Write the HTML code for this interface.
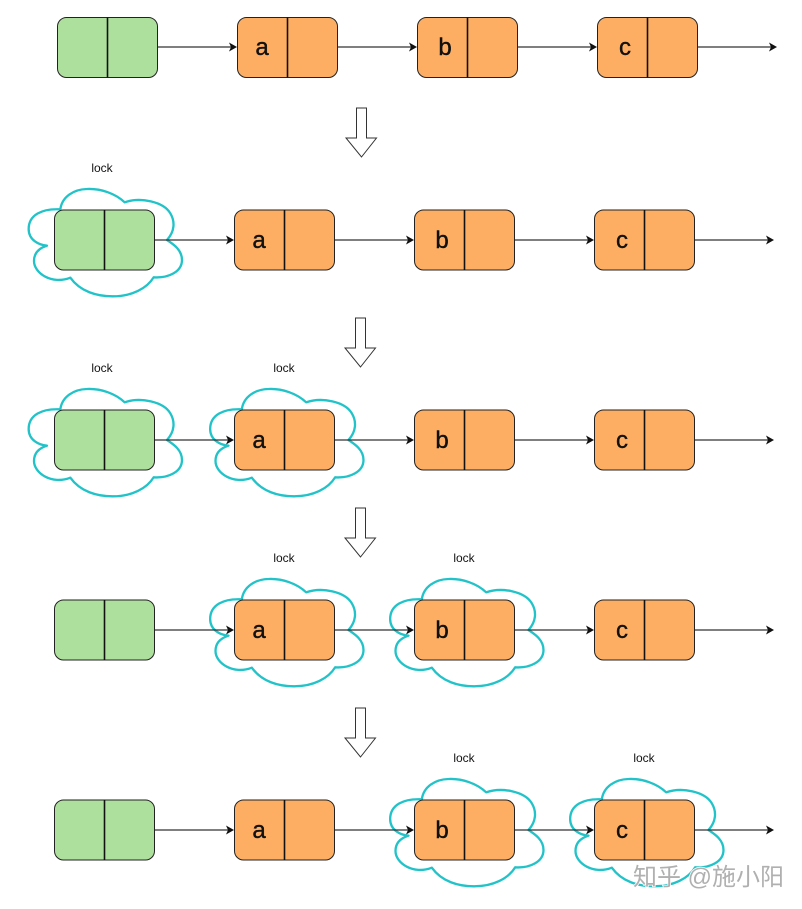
<!DOCTYPE html>
<html><head><meta charset="utf-8"><style>
html,body{margin:0;padding:0;background:#fff}
svg{display:block}
.l{font:24px "Liberation Sans",sans-serif;fill:#111;stroke:#111;stroke-width:.4;text-anchor:middle}
.k{font:12px "Liberation Sans",sans-serif;fill:#111;text-anchor:middle}
.w{font:24px "Liberation Sans","Noto Sans CJK SC",sans-serif;fill:#b0b0b0;stroke:#fff;stroke-width:1.5;paint-order:stroke}
</style></head><body>
<svg width="802" height="909" viewBox="0 0 802 909" xmlns="http://www.w3.org/2000/svg">
<defs>
<path id="cl" transform="scale(0.3333) translate(-103,-165)" fill="none" stroke="#22c3c8" stroke-width="7" stroke-linejoin="round" d="M125,163 C70,160 30,180 30,222 C30,255 60,270 85,272 C60,280 46,295 46,318 C46,355 100,390 155,368 C185,410 235,424 282,424 C340,424 385,400 405,367 C450,370 490,350 490,315 C490,285 465,268 445,255 C468,230 470,200 455,175 C435,140 365,125 318,142 C290,115 245,100 205,102 C165,103 130,125 125,163 Z"/>
<g id="g"><rect x="0" y="0" width="100" height="60" rx="9" fill="#aee09d" stroke="#222" stroke-width="1"/><line x1="50" y1="0" x2="50" y2="60" stroke="#111" stroke-width="1.6"/></g>
<g id="o"><rect x="0" y="0" width="100" height="60" rx="9" fill="#fdae62" stroke="#222" stroke-width="1"/><line x1="50" y1="0" x2="50" y2="60" stroke="#111" stroke-width="1.6"/></g>
<path id="h" d="M0,0 L-8,-4.500 L-6,0 L-8,4.500 Z" fill="#111"/>
<path id="d" d="M-4.500,0 H5.500 V30 H15.500 L0.500,49 L-15,30 H-4.500 Z" fill="#fff" stroke="#333" stroke-width="1"/>
</defs>

<!-- clouds -->
<use href="#cl" x="53" y="210"/>
<use href="#cl" x="53" y="410"/>
<use href="#cl" x="234.500" y="410"/>
<use href="#cl" x="234.500" y="600"/>
<use href="#cl" x="414.500" y="600"/>
<use href="#cl" x="414.500" y="800"/>
<use href="#cl" x="594.500" y="800"/>

<!-- connectors -->
<g stroke="#333" stroke-width="1.3" fill="none">
<path d="M157.500,47 H232 M337.500,47 H412 M517.500,47 H592 M697.500,47 H772"/>
<path d="M154.500,240 H229 M334.500,240 H409 M514.500,240 H589 M694.500,240 H769"/>
<path d="M154.500,440 H229 M334.500,440 H409 M514.500,440 H589 M694.500,440 H769"/>
<path d="M154.500,630 H229 M334.500,630 H409 M514.500,630 H589 M694.500,630 H769"/>
<path d="M154.500,830 H229 M334.500,830 H409 M514.500,830 H589 M694.500,830 H769"/>
</g>
<use href="#h" x="237" y="47"/><use href="#h" x="417" y="47"/><use href="#h" x="597" y="47"/><use href="#h" x="777" y="47"/>
<use href="#h" x="234" y="240"/><use href="#h" x="414" y="240"/><use href="#h" x="594" y="240"/><use href="#h" x="774" y="240"/>
<use href="#h" x="234" y="440"/><use href="#h" x="414" y="440"/><use href="#h" x="594" y="440"/><use href="#h" x="774" y="440"/>
<use href="#h" x="234" y="630"/><use href="#h" x="414" y="630"/><use href="#h" x="594" y="630"/><use href="#h" x="774" y="630"/>
<use href="#h" x="234" y="830"/><use href="#h" x="414" y="830"/><use href="#h" x="594" y="830"/><use href="#h" x="774" y="830"/>

<!-- boxes -->
<use href="#g" x="57.500" y="17.500"/><use href="#o" x="237.500" y="17.500"/><use href="#o" x="417.500" y="17.500"/><use href="#o" x="597.500" y="17.500"/>
<use href="#g" x="54.500" y="210"/><use href="#o" x="234.500" y="210"/><use href="#o" x="414.500" y="210"/><use href="#o" x="594.500" y="210"/>
<use href="#g" x="54.500" y="410"/><use href="#o" x="234.500" y="410"/><use href="#o" x="414.500" y="410"/><use href="#o" x="594.500" y="410"/>
<use href="#g" x="54.500" y="600"/><use href="#o" x="234.500" y="600"/><use href="#o" x="414.500" y="600"/><use href="#o" x="594.500" y="600"/>
<use href="#g" x="54.500" y="800"/><use href="#o" x="234.500" y="800"/><use href="#o" x="414.500" y="800"/><use href="#o" x="594.500" y="800"/>

<!-- letters -->
<text class="l" x="262" y="55">a</text><text class="l" x="445" y="55">b</text><text class="l" x="625" y="55">c</text>
<text class="l" x="259" y="248">a</text><text class="l" x="442" y="248">b</text><text class="l" x="622" y="248">c</text>
<text class="l" x="259" y="448">a</text><text class="l" x="442" y="448">b</text><text class="l" x="622" y="448">c</text>
<text class="l" x="259" y="638">a</text><text class="l" x="442" y="638">b</text><text class="l" x="622" y="638">c</text>
<text class="l" x="259" y="838">a</text><text class="l" x="442" y="838">b</text><text class="l" x="622" y="838">c</text>

<!-- lock labels -->
<text class="k" x="102" y="172">lock</text>
<text class="k" x="102" y="372">lock</text><text class="k" x="284" y="372">lock</text>
<text class="k" x="284" y="562">lock</text><text class="k" x="464" y="562">lock</text>
<text class="k" x="464" y="762">lock</text><text class="k" x="644" y="762">lock</text>

<!-- down arrows -->
<use href="#d" x="361" y="108"/>
<use href="#d" x="360" y="318"/>
<use href="#d" x="360" y="508"/>
<use href="#d" x="360" y="708"/>

<!-- watermark -->
<text class="w" x="633" y="885">知乎 @施小阳</text>
</svg>
</body></html>
